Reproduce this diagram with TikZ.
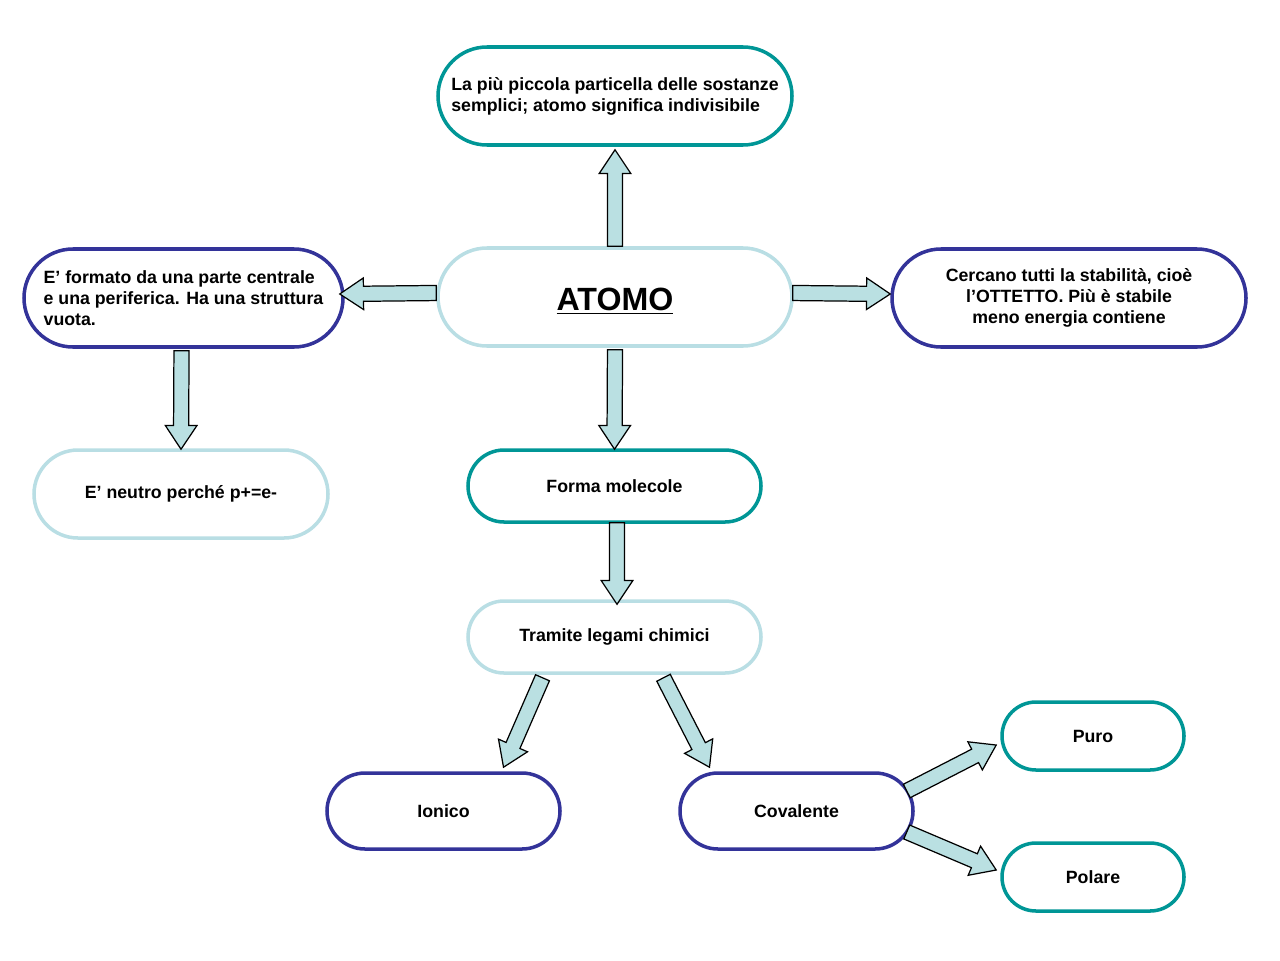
\documentclass[tikz,border=0pt]{standalone}
\usepackage{fontspec}
\setmainfont{Liberation Sans}
\usepackage{tikz}
\usetikzlibrary{shapes.misc,calc}

\definecolor{tealline}{RGB}{0,150,150}
\definecolor{navyline}{RGB}{51,51,153}
\definecolor{paleline}{RGB}{185,222,228}
\definecolor{arrowfill}{RGB}{186,224,226}

\tikzset{
  bubble/.style={rounded rectangle, draw, line width=2pt, fill=white,
    font=\fontsize{10.1}{12}\selectfont\bfseries, inner sep=0pt},
  tealbox/.style={bubble, draw=tealline},
  navybox/.style={bubble, draw=navyline},
  palebox/.style={bubble, draw=paleline}
}

% block arrow from one point to another
\newcommand{\blockarrow}[2]{%
  \path[draw=black, fill=arrowfill, line width=0.7pt]
    let \p1=(#1), \p2=(#2),
        \n1={atan2(\y2-\y1,\x2-\x1)},
        \n2={veclen(\x2-\x1,\y2-\y1)}
    in [shift={(\p1)}, rotate=\n1]
    (0pt,-4.3pt) -- ({\n2*1pt-13.5pt},-4.3pt) -- ({\n2*1pt-13.5pt},-9pt)
    -- ({\n2*1pt},0pt) -- ({\n2*1pt-13.5pt},9pt) -- ({\n2*1pt-13.5pt},4.3pt)
    -- (0pt,4.3pt) -- cycle;
}

\begin{document}
\begin{tikzpicture}[x=0.02cm, y=-0.02cm]
    \useasboundingbox (0,0) rectangle (1280,960);

    % Draw the bubbles
    \node[palebox, minimum width=354*0.02cm, minimum height=98*0.02cm] (atomo) at (615,297)
      {\raisebox{-2.5pt}[\height][\depth]{\fontsize{18.3}{20}\selectfont\underline{ATOMO}}};
    \node[tealbox, minimum width=354*0.02cm, minimum height=98*0.02cm, align=left] (piccola) at (615,96)
      {La più piccola particella delle sostanze\\semplici; atomo significa indivisibile};
    \node[navybox, minimum width=319*0.02cm, minimum height=98*0.02cm, align=left] (formato) at (183.5,298)
      {E’ formato da una parte centrale\\e una periferica. Ha una struttura\\vuota.};
    \node[navybox, minimum width=354*0.02cm, minimum height=98*0.02cm, align=center] (ottetto) at (1069,298)
      {Cercano tutti la stabilità, cioè\\l’OTTETTO. Più è stabile\\ meno energia contiene};
    \node[palebox, minimum width=294*0.02cm, minimum height=88*0.02cm] (neutro) at (181,494)
      {E’ neutro perché p+=e-};
    \node[tealbox, minimum width=293*0.02cm, minimum height=72*0.02cm] (forma) at (614.5,486)
      {Forma molecole};
    \node[palebox, minimum width=293*0.02cm, minimum height=72*0.02cm] (tramite) at (614.5,637)
      {Tramite legami chimici};
    \node[navybox, minimum width=233*0.02cm, minimum height=76*0.02cm] (ionico) at (443.5,811)
      {Ionico};
    \node[navybox, minimum width=233*0.02cm, minimum height=76*0.02cm] (covalente) at (796.5,811)
      {Covalente};
    \node[tealbox, minimum width=182*0.02cm, minimum height=68*0.02cm] (puro) at (1093,736)
      {Puro};
    \node[tealbox, minimum width=182*0.02cm, minimum height=68*0.02cm] (polare) at (1093,877)
      {Polare};

    % Draw the arrows
    \blockarrow{atomo.north}{$(piccola.south)+(0,3)$}
    \blockarrow{$(atomo.west)+(0,-4)$}{$(formato.east)+(-5,-4)$}
    \blockarrow{$(atomo.east)+(-1,-4)$}{$(ottetto.west)+(0,-4)$}
    \blockarrow{$(atomo.south)+(0,2)$}{$(forma.north)+(0,1)$}
    \blockarrow{$(formato.south)+(-2,2)$}{$(neutro.north)+(0,1)$}
    \blockarrow{$(forma.south)+(2.5,-1)$}{$(tramite.north)+(2.5,5)$}
    \blockarrow{$(tramite.south)+(-72,3)$}{$(ionico.north)+(60,-4)$}
    \blockarrow{$(tramite.south)+(49,3)$}{$(covalente.north)+(-87,-4)$}
    \blockarrow{$(covalente.east)+(-8,-20)$}{$(puro.west)+(-4,9)$}
    \blockarrow{$(covalente.east)+(-8,21)$}{$(polare.west)+(-4,-7)$}
\end{tikzpicture}
\end{document}
